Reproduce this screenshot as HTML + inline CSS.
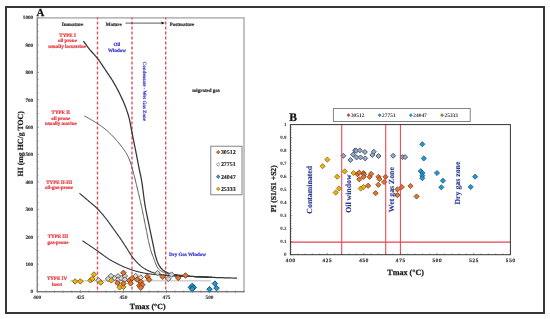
<!DOCTYPE html>
<html><head><meta charset="utf-8"><title>HI vs Tmax and PI vs Tmax</title>
<style>
html,body{margin:0;padding:0;background:#fff;}
body{width:550px;height:319px;overflow:hidden;}
svg{display:block;filter:blur(0.25px);}
svg text{font-family:'Liberation Serif', 'DejaVu Serif', serif;text-rendering:geometricPrecision;}
</style></head>
<body>
<svg width="550" height="319" viewBox="0 0 550 319">
<rect x="0" y="0" width="550" height="319" fill="#fff"/>
<rect x="6" y="7" width="538" height="306" fill="none" stroke="#363636" stroke-width="2"/>
<rect x="37.3" y="17.9" width="206.7" height="273.7" fill="none" stroke="#a0a0a0" stroke-width="1.25"/>
<line x1="37.3" y1="17.6" x2="37.3" y2="292.1" stroke="#858585" stroke-width="1.15"/>
<line x1="36.8" y1="291.6" x2="244" y2="291.6" stroke="#7a7a7a" stroke-width="1.2"/>
<line x1="37.3" y1="291.6" x2="38.9" y2="291.6" stroke="#777" stroke-width="0.7"/>
<line x1="37.3" y1="284.75" x2="38.5" y2="284.75" stroke="#777" stroke-width="0.7"/>
<line x1="37.3" y1="277.9" x2="38.5" y2="277.9" stroke="#777" stroke-width="0.7"/>
<line x1="37.3" y1="271.05" x2="38.5" y2="271.05" stroke="#777" stroke-width="0.7"/>
<line x1="37.3" y1="264.2" x2="38.9" y2="264.2" stroke="#777" stroke-width="0.7"/>
<line x1="37.3" y1="257.35" x2="38.5" y2="257.35" stroke="#777" stroke-width="0.7"/>
<line x1="37.3" y1="250.5" x2="38.5" y2="250.5" stroke="#777" stroke-width="0.7"/>
<line x1="37.3" y1="243.65" x2="38.5" y2="243.65" stroke="#777" stroke-width="0.7"/>
<line x1="37.3" y1="236.8" x2="38.9" y2="236.8" stroke="#777" stroke-width="0.7"/>
<line x1="37.3" y1="229.95" x2="38.5" y2="229.95" stroke="#777" stroke-width="0.7"/>
<line x1="37.3" y1="223.1" x2="38.5" y2="223.1" stroke="#777" stroke-width="0.7"/>
<line x1="37.3" y1="216.25" x2="38.5" y2="216.25" stroke="#777" stroke-width="0.7"/>
<line x1="37.3" y1="209.4" x2="38.9" y2="209.4" stroke="#777" stroke-width="0.7"/>
<line x1="37.3" y1="202.55" x2="38.5" y2="202.55" stroke="#777" stroke-width="0.7"/>
<line x1="37.3" y1="195.7" x2="38.5" y2="195.7" stroke="#777" stroke-width="0.7"/>
<line x1="37.3" y1="188.85" x2="38.5" y2="188.85" stroke="#777" stroke-width="0.7"/>
<line x1="37.3" y1="182" x2="38.9" y2="182" stroke="#777" stroke-width="0.7"/>
<line x1="37.3" y1="175.15" x2="38.5" y2="175.15" stroke="#777" stroke-width="0.7"/>
<line x1="37.3" y1="168.3" x2="38.5" y2="168.3" stroke="#777" stroke-width="0.7"/>
<line x1="37.3" y1="161.45" x2="38.5" y2="161.45" stroke="#777" stroke-width="0.7"/>
<line x1="37.3" y1="154.6" x2="38.9" y2="154.6" stroke="#777" stroke-width="0.7"/>
<line x1="37.3" y1="147.75" x2="38.5" y2="147.75" stroke="#777" stroke-width="0.7"/>
<line x1="37.3" y1="140.9" x2="38.5" y2="140.9" stroke="#777" stroke-width="0.7"/>
<line x1="37.3" y1="134.05" x2="38.5" y2="134.05" stroke="#777" stroke-width="0.7"/>
<line x1="37.3" y1="127.2" x2="38.9" y2="127.2" stroke="#777" stroke-width="0.7"/>
<line x1="37.3" y1="120.35" x2="38.5" y2="120.35" stroke="#777" stroke-width="0.7"/>
<line x1="37.3" y1="113.5" x2="38.5" y2="113.5" stroke="#777" stroke-width="0.7"/>
<line x1="37.3" y1="106.65" x2="38.5" y2="106.65" stroke="#777" stroke-width="0.7"/>
<line x1="37.3" y1="99.8" x2="38.9" y2="99.8" stroke="#777" stroke-width="0.7"/>
<line x1="37.3" y1="92.95" x2="38.5" y2="92.95" stroke="#777" stroke-width="0.7"/>
<line x1="37.3" y1="86.1" x2="38.5" y2="86.1" stroke="#777" stroke-width="0.7"/>
<line x1="37.3" y1="79.25" x2="38.5" y2="79.25" stroke="#777" stroke-width="0.7"/>
<line x1="37.3" y1="72.4" x2="38.9" y2="72.4" stroke="#777" stroke-width="0.7"/>
<line x1="37.3" y1="65.55" x2="38.5" y2="65.55" stroke="#777" stroke-width="0.7"/>
<line x1="37.3" y1="58.7" x2="38.5" y2="58.7" stroke="#777" stroke-width="0.7"/>
<line x1="37.3" y1="51.85" x2="38.5" y2="51.85" stroke="#777" stroke-width="0.7"/>
<line x1="37.3" y1="45" x2="38.9" y2="45" stroke="#777" stroke-width="0.7"/>
<line x1="37.3" y1="38.15" x2="38.5" y2="38.15" stroke="#777" stroke-width="0.7"/>
<line x1="37.3" y1="31.3" x2="38.5" y2="31.3" stroke="#777" stroke-width="0.7"/>
<line x1="37.3" y1="24.45" x2="38.5" y2="24.45" stroke="#777" stroke-width="0.7"/>
<line x1="37.3" y1="17.6" x2="38.9" y2="17.6" stroke="#777" stroke-width="0.7"/>
<line x1="37.3" y1="290" x2="37.3" y2="293.2" stroke="#777" stroke-width="0.7"/>
<line x1="45.91" y1="290.5" x2="45.91" y2="292.7" stroke="#777" stroke-width="0.7"/>
<line x1="54.52" y1="290.5" x2="54.52" y2="292.7" stroke="#777" stroke-width="0.7"/>
<line x1="63.14" y1="290.5" x2="63.14" y2="292.7" stroke="#777" stroke-width="0.7"/>
<line x1="71.75" y1="290.5" x2="71.75" y2="292.7" stroke="#777" stroke-width="0.7"/>
<line x1="80.36" y1="290" x2="80.36" y2="293.2" stroke="#777" stroke-width="0.7"/>
<line x1="88.97" y1="290.5" x2="88.97" y2="292.7" stroke="#777" stroke-width="0.7"/>
<line x1="97.59" y1="290.5" x2="97.59" y2="292.7" stroke="#777" stroke-width="0.7"/>
<line x1="106.2" y1="290.5" x2="106.2" y2="292.7" stroke="#777" stroke-width="0.7"/>
<line x1="114.81" y1="290.5" x2="114.81" y2="292.7" stroke="#777" stroke-width="0.7"/>
<line x1="123.42" y1="290" x2="123.42" y2="293.2" stroke="#777" stroke-width="0.7"/>
<line x1="132.04" y1="290.5" x2="132.04" y2="292.7" stroke="#777" stroke-width="0.7"/>
<line x1="140.65" y1="290.5" x2="140.65" y2="292.7" stroke="#777" stroke-width="0.7"/>
<line x1="149.26" y1="290.5" x2="149.26" y2="292.7" stroke="#777" stroke-width="0.7"/>
<line x1="157.88" y1="290.5" x2="157.88" y2="292.7" stroke="#777" stroke-width="0.7"/>
<line x1="166.49" y1="290" x2="166.49" y2="293.2" stroke="#777" stroke-width="0.7"/>
<line x1="175.1" y1="290.5" x2="175.1" y2="292.7" stroke="#777" stroke-width="0.7"/>
<line x1="183.71" y1="290.5" x2="183.71" y2="292.7" stroke="#777" stroke-width="0.7"/>
<line x1="192.32" y1="290.5" x2="192.32" y2="292.7" stroke="#777" stroke-width="0.7"/>
<line x1="200.94" y1="290.5" x2="200.94" y2="292.7" stroke="#777" stroke-width="0.7"/>
<line x1="209.55" y1="290" x2="209.55" y2="293.2" stroke="#777" stroke-width="0.7"/>
<line x1="218.16" y1="290.5" x2="218.16" y2="292.7" stroke="#777" stroke-width="0.7"/>
<line x1="226.77" y1="290.5" x2="226.77" y2="292.7" stroke="#777" stroke-width="0.7"/>
<line x1="235.39" y1="290.5" x2="235.39" y2="292.7" stroke="#777" stroke-width="0.7"/>
<line x1="244" y1="290.5" x2="244" y2="292.7" stroke="#777" stroke-width="0.7"/>
<text x="33.2" y="293.4" font-size="5.2" text-anchor="end" font-weight="bold" fill="#333" stroke="#333" stroke-width="0.15">0</text>
<text x="33.2" y="266" font-size="5.2" text-anchor="end" font-weight="bold" fill="#333" stroke="#333" stroke-width="0.15">100</text>
<text x="33.2" y="238.6" font-size="5.2" text-anchor="end" font-weight="bold" fill="#333" stroke="#333" stroke-width="0.15">200</text>
<text x="33.2" y="211.2" font-size="5.2" text-anchor="end" font-weight="bold" fill="#333" stroke="#333" stroke-width="0.15">300</text>
<text x="33.2" y="183.8" font-size="5.2" text-anchor="end" font-weight="bold" fill="#333" stroke="#333" stroke-width="0.15">400</text>
<text x="33.2" y="156.4" font-size="5.2" text-anchor="end" font-weight="bold" fill="#333" stroke="#333" stroke-width="0.15">500</text>
<text x="33.2" y="129" font-size="5.2" text-anchor="end" font-weight="bold" fill="#333" stroke="#333" stroke-width="0.15">600</text>
<text x="33.2" y="101.6" font-size="5.2" text-anchor="end" font-weight="bold" fill="#333" stroke="#333" stroke-width="0.15">700</text>
<text x="33.2" y="74.2" font-size="5.2" text-anchor="end" font-weight="bold" fill="#333" stroke="#333" stroke-width="0.15">800</text>
<text x="33.2" y="46.8" font-size="5.2" text-anchor="end" font-weight="bold" fill="#333" stroke="#333" stroke-width="0.15">900</text>
<text x="33.2" y="19.4" font-size="5.2" text-anchor="end" font-weight="bold" fill="#333" stroke="#333" stroke-width="0.15">1000</text>
<text x="37.3" y="299.2" font-size="5.3" text-anchor="middle" font-weight="bold" fill="#333" stroke="#333" stroke-width="0.12">400</text>
<text x="80.36" y="299.2" font-size="5.3" text-anchor="middle" font-weight="bold" fill="#333" stroke="#333" stroke-width="0.12">425</text>
<text x="123.42" y="299.2" font-size="5.3" text-anchor="middle" font-weight="bold" fill="#333" stroke="#333" stroke-width="0.12">450</text>
<text x="166.49" y="299.2" font-size="5.3" text-anchor="middle" font-weight="bold" fill="#333" stroke="#333" stroke-width="0.12">475</text>
<text x="209.55" y="299.2" font-size="5.3" text-anchor="middle" font-weight="bold" fill="#333" stroke="#333" stroke-width="0.12">500</text>
<line x1="70" y1="280.7" x2="211" y2="280.7" stroke="#d0d0d0" stroke-width="1.6"/>
<line x1="97.5" y1="17.6" x2="97.5" y2="291.6" stroke="#e6505a" stroke-width="1.4" stroke-dasharray="3,2" stroke-dashoffset="1"/>
<line x1="132" y1="17.6" x2="132" y2="291.6" stroke="#e6505a" stroke-width="1.4" stroke-dasharray="3,2" stroke-dashoffset="1"/>
<line x1="165.7" y1="17.6" x2="165.7" y2="291.6" stroke="#e6505a" stroke-width="1.4" stroke-dasharray="3,2" stroke-dashoffset="1"/>
<path d="M83.4,41 L84.33,42.33 L85.26,43.65 L86.22,44.96 L87.19,46.26 L88.17,47.54 L89.17,48.81 L90.19,50.06 L91.25,51.28 L92.34,52.49 L93.43,53.69 L94.53,54.88 L95.61,56.09 L96.66,57.32 L97.66,58.58 L98.63,59.87 L99.57,61.18 L100.48,62.51 L101.39,63.86 L102.28,65.21 L103.17,66.57 L104.06,67.93 L104.95,69.28 L105.86,70.62 L106.77,71.96 L107.68,73.3 L108.6,74.63 L109.51,75.98 L110.4,77.32 L111.29,78.68 L112.15,80.04 L112.99,81.42 L113.81,82.81 L114.62,84.21 L115.42,85.62 L116.21,87.04 L116.98,88.46 L117.74,89.89 L118.48,91.33 L119.21,92.78 L119.93,94.23 L120.63,95.68 L121.32,97.15 L121.99,98.62 L122.66,100.1 L123.31,101.58 L123.95,103.07 L124.56,104.57 L125.16,106.07 L125.73,107.58 L126.29,109.1 L126.84,110.63 L127.37,112.16 L127.88,113.7 L128.35,115.25 L128.79,116.8 L129.19,118.36 L129.55,119.94 L129.88,121.52 L130.2,123.11 L130.5,124.7 L130.79,126.29 L131.09,127.89 L131.4,129.48 L131.71,131.07 L132.03,132.65 L132.35,134.24 L132.67,135.83 L132.98,137.41 L133.3,139 L133.62,140.59 L133.93,142.17 L134.25,143.76 L134.57,145.35 L134.89,146.93 L135.21,148.52 L135.53,150.11 L135.85,151.69 L136.16,153.28 L136.47,154.87 L136.78,156.46 L137.09,158.04 L137.39,159.63 L137.69,161.22 L137.99,162.81 L138.3,164.4 L138.6,165.99 L138.92,167.58 L139.24,169.17 L139.58,170.75 L139.92,172.33 L140.27,173.91 L140.62,175.49 L140.95,177.08 L141.26,178.66 L141.54,180.26 L141.81,181.85 L142.05,183.45 L142.29,185.05 L142.51,186.65 L142.72,188.26 L142.93,189.86 L143.14,191.47 L143.34,193.08 L143.54,194.68 L143.75,196.29 L143.96,197.89 L144.17,199.5 L144.4,201.1 L144.64,202.7 L144.89,204.3 L145.15,205.89 L145.43,207.49 L145.72,209.08 L146.03,210.66 L146.34,212.25 L146.66,213.84 L146.99,215.42 L147.32,217.01 L147.66,218.59 L147.99,220.18 L148.33,221.76 L148.66,223.35 L148.99,224.93 L149.31,226.52 L149.64,228.1 L149.97,229.68 L150.3,231.27 L150.63,232.85 L150.97,234.43 L151.3,236.02 L151.64,237.6 L151.97,239.18 L152.31,240.77 L152.64,242.35 L152.98,243.93 L153.31,245.52 L153.63,247.11 L153.94,248.7 L154.25,250.29 L154.58,251.87 L154.92,253.45 L155.3,255.02 L155.72,256.59 L156.17,258.15 L156.65,259.7 L157.19,261.22 L157.8,262.71 L158.49,264.2 L159.27,265.64 L160.14,267 L161.11,268.25 L162.25,269.44 L163.5,270.52 L164.82,271.39 L166.24,272.13 L167.76,272.77 L169.31,273.3 L170.86,273.72 L172.43,274.08 L174.02,274.39 L175.63,274.66 L177.24,274.9 L178.84,275.11 L180.44,275.31 L182.05,275.49 L183.66,275.67 L185.27,275.83 L186.88,275.98 L188.5,276.12 L190.11,276.26 L191.73,276.38 L193.34,276.49 L194.96,276.6 L196.57,276.69 L198.18,276.79 L199.8,276.87 L201.42,276.95 L203.03,277.03 L204.65,277.1 L206.27,277.17 L207.88,277.24 L209.5,277.3 L211.12,277.36 L212.74,277.42 L214.35,277.48 L215.97,277.53 L217.59,277.59 L219.21,277.64 L220.82,277.69 L222.44,277.74 L224.06,277.79 L225.68,277.84 L227.29,277.88 L228.91,277.92 L230.53,277.96 L232.15,278 L233.76,278.04 L235.38,278.07 L237,278.1" fill="none" stroke="#333" stroke-width="1.25" stroke-linejoin="round"/>
<path d="M84.3,116 L85.35,116.53 L86.39,117.07 L87.42,117.62 L88.45,118.18 L89.47,118.74 L90.49,119.32 L91.5,119.91 L92.51,120.5 L93.5,121.11 L94.5,121.72 L95.48,122.33 L96.47,122.96 L97.44,123.59 L98.41,124.23 L99.38,124.88 L100.35,125.55 L101.31,126.22 L102.26,126.9 L103.21,127.6 L104.14,128.3 L105.06,129.02 L105.97,129.75 L106.86,130.5 L107.74,131.26 L108.6,132.04 L109.44,132.84 L110.28,133.66 L111.11,134.49 L111.92,135.33 L112.73,136.18 L113.53,137.04 L114.32,137.89 L115.11,138.75 L115.89,139.62 L116.66,140.49 L117.43,141.38 L118.2,142.26 L118.95,143.16 L119.69,144.07 L120.41,144.98 L121.12,145.9 L121.82,146.83 L122.52,147.77 L123.21,148.72 L123.9,149.67 L124.57,150.63 L125.23,151.61 L125.86,152.59 L126.46,153.59 L127.03,154.6 L127.57,155.62 L128.08,156.67 L128.57,157.73 L129.04,158.8 L129.48,159.89 L129.91,160.98 L130.31,162.08 L130.7,163.18 L131.06,164.28 L131.4,165.4 L131.73,166.52 L132.05,167.65 L132.36,168.77 L132.67,169.9 L132.98,171.02 L133.28,172.15 L133.58,173.28 L133.88,174.41 L134.17,175.54 L134.46,176.67 L134.75,177.8 L135.03,178.94 L135.31,180.07 L135.59,181.2 L135.87,182.34 L136.14,183.47 L136.42,184.61 L136.69,185.74 L136.97,186.88 L137.25,188.01 L137.52,189.14 L137.79,190.28 L138.07,191.42 L138.34,192.55 L138.61,193.69 L138.88,194.82 L139.15,195.96 L139.41,197.1 L139.68,198.23 L139.94,199.37 L140.2,200.51 L140.46,201.65 L140.71,202.79 L140.96,203.93 L141.21,205.07 L141.46,206.21 L141.71,207.35 L141.95,208.49 L142.19,209.63 L142.42,210.78 L142.66,211.92 L142.89,213.06 L143.12,214.21 L143.35,215.35 L143.58,216.5 L143.81,217.64 L144.04,218.79 L144.27,219.93 L144.5,221.08 L144.73,222.22 L144.97,223.37 L145.2,224.51 L145.43,225.65 L145.66,226.8 L145.89,227.94 L146.12,229.09 L146.34,230.24 L146.56,231.38 L146.79,232.53 L147.01,233.68 L147.23,234.82 L147.46,235.97 L147.69,237.11 L147.92,238.26 L148.16,239.4 L148.4,240.54 L148.65,241.68 L148.9,242.82 L149.16,243.96 L149.42,245.1 L149.7,246.23 L149.98,247.36 L150.28,248.49 L150.59,249.62 L150.92,250.74 L151.27,251.85 L151.66,252.95 L152.07,254.04 L152.49,255.13 L152.92,256.22 L153.33,257.31 L153.73,258.41 L154.11,259.52 L154.5,260.62 L154.89,261.73 L155.31,262.82 L155.75,263.89 L156.23,264.97 L156.72,266.07 L157.26,267.14 L157.85,268.14 L158.52,269.02 L159.32,269.81 L160.27,270.53 L161.3,271.18 L162.34,271.73 L163.39,272.18 L164.48,272.58 L165.6,272.94 L166.74,273.26 L167.87,273.57 L169,273.86 L170.14,274.15 L171.28,274.42 L172.42,274.67 L173.57,274.89 L174.72,275.06 L175.87,275.2 L177.03,275.33 L178.18,275.45 L179.34,275.56 L180.5,275.66 L181.67,275.76 L182.83,275.85 L184,275.94 L185.16,276.02 L186.33,276.09 L187.5,276.17 L188.67,276.24 L189.84,276.31 L191.01,276.37 L192.17,276.44 L193.34,276.51 L194.51,276.57 L195.67,276.64 L196.84,276.7 L198,276.77 L199.17,276.83 L200.34,276.89 L201.5,276.95 L202.67,277.01 L203.83,277.07 L205,277.12 L206.17,277.17 L207.33,277.22 L208.5,277.27 L209.67,277.32 L210.83,277.36 L212,277.4" fill="none" stroke="#555" stroke-width="1.0" stroke-linejoin="round"/>
<path d="M79.5,193.3 L80.15,193.84 L80.8,194.39 L81.45,194.94 L82.1,195.48 L82.75,196.03 L83.4,196.58 L84.05,197.13 L84.69,197.67 L85.34,198.22 L85.99,198.77 L86.63,199.33 L87.27,199.88 L87.92,200.43 L88.56,200.98 L89.21,201.53 L89.87,202.08 L90.52,202.62 L91.17,203.17 L91.83,203.71 L92.48,204.26 L93.13,204.81 L93.77,205.36 L94.41,205.92 L95.05,206.48 L95.68,207.05 L96.3,207.63 L96.91,208.21 L97.5,208.8 L98.1,209.41 L98.68,210.02 L99.26,210.63 L99.84,211.26 L100.41,211.89 L100.97,212.53 L101.53,213.17 L102.08,213.81 L102.63,214.46 L103.18,215.12 L103.72,215.77 L104.26,216.43 L104.79,217.09 L105.32,217.75 L105.85,218.42 L106.37,219.08 L106.89,219.76 L107.4,220.43 L107.91,221.11 L108.41,221.8 L108.91,222.49 L109.4,223.17 L109.9,223.87 L110.39,224.56 L110.88,225.25 L111.38,225.94 L111.87,226.63 L112.37,227.32 L112.87,228.01 L113.37,228.69 L113.86,229.38 L114.36,230.07 L114.86,230.75 L115.36,231.44 L115.86,232.13 L116.35,232.82 L116.85,233.51 L117.34,234.2 L117.83,234.89 L118.32,235.59 L118.8,236.28 L119.29,236.98 L119.77,237.68 L120.25,238.38 L120.72,239.08 L121.2,239.79 L121.67,240.49 L122.14,241.2 L122.61,241.9 L123.08,242.61 L123.55,243.32 L124.01,244.03 L124.48,244.74 L124.94,245.45 L125.41,246.16 L125.87,246.87 L126.33,247.58 L126.8,248.29 L127.25,249.01 L127.71,249.73 L128.15,250.45 L128.59,251.18 L129.04,251.91 L129.48,252.63 L129.93,253.36 L130.38,254.07 L130.84,254.78 L131.31,255.49 L131.8,256.18 L132.29,256.86 L132.8,257.54 L133.33,258.21 L133.86,258.87 L134.4,259.53 L134.95,260.18 L135.52,260.82 L136.09,261.45 L136.67,262.06 L137.26,262.67 L137.85,263.27 L138.46,263.87 L139.09,264.46 L139.72,265.03 L140.36,265.6 L141.01,266.14 L141.68,266.66 L142.35,267.16 L143.04,267.64 L143.74,268.12 L144.46,268.58 L145.19,269.02 L145.93,269.45 L146.68,269.87 L147.43,270.26 L148.2,270.63 L148.96,270.98 L149.74,271.32 L150.52,271.64 L151.31,271.95 L152.12,272.24 L152.92,272.52 L153.74,272.78 L154.55,273.02 L155.37,273.24 L156.19,273.44 L157.01,273.63 L157.84,273.82 L158.67,273.99 L159.5,274.16 L160.34,274.32 L161.18,274.46 L162.02,274.6 L162.86,274.73 L163.71,274.85 L164.55,274.95 L165.39,275.04 L166.23,275.13 L167.07,275.21 L167.91,275.29 L168.76,275.37 L169.6,275.44 L170.45,275.51 L171.3,275.58 L172.14,275.64 L172.99,275.7 L173.84,275.76 L174.69,275.81 L175.54,275.87 L176.39,275.91 L177.23,275.96 L178.08,276.01 L178.93,276.05 L179.78,276.09 L180.63,276.13 L181.47,276.16 L182.32,276.2 L183.17,276.23 L184.02,276.26 L184.87,276.28 L185.71,276.31 L186.56,276.34 L187.41,276.36 L188.26,276.38 L189.11,276.41 L189.96,276.43 L190.8,276.46 L191.65,276.48 L192.5,276.51 L193.35,276.54 L194.2,276.57 L195.05,276.6 L195.89,276.64 L196.74,276.67 L197.59,276.7 L198.44,276.74 L199.28,276.78 L200.13,276.81 L200.98,276.85 L201.83,276.89 L202.68,276.93 L203.52,276.97 L204.37,277.01 L205.22,277.05 L206.07,277.09 L206.91,277.13 L207.76,277.18 L208.61,277.22 L209.46,277.26 L210.3,277.31 L211.15,277.35 L212,277.4" fill="none" stroke="#383838" stroke-width="1.15" stroke-linejoin="round"/>
<path d="M82.5,240.8 L83.08,241.18 L83.66,241.56 L84.24,241.94 L84.82,242.33 L85.4,242.71 L85.98,243.09 L86.56,243.48 L87.14,243.87 L87.72,244.25 L88.29,244.64 L88.87,245.03 L89.45,245.41 L90.02,245.8 L90.6,246.19 L91.17,246.58 L91.75,246.97 L92.32,247.36 L92.89,247.76 L93.47,248.15 L94.04,248.54 L94.61,248.93 L95.19,249.33 L95.76,249.72 L96.33,250.12 L96.9,250.51 L97.47,250.91 L98.04,251.31 L98.61,251.71 L99.17,252.12 L99.73,252.53 L100.29,252.94 L100.85,253.35 L101.41,253.77 L101.97,254.19 L102.53,254.6 L103.08,255.02 L103.64,255.43 L104.2,255.85 L104.77,256.26 L105.33,256.66 L105.9,257.06 L106.46,257.46 L107.04,257.85 L107.61,258.24 L108.19,258.62 L108.78,258.99 L109.37,259.35 L109.96,259.71 L110.55,260.07 L111.15,260.42 L111.75,260.77 L112.36,261.11 L112.96,261.45 L113.57,261.79 L114.19,262.12 L114.8,262.45 L115.41,262.78 L116.03,263.1 L116.65,263.42 L117.27,263.73 L117.89,264.04 L118.51,264.35 L119.13,264.66 L119.76,264.96 L120.39,265.26 L121.01,265.56 L121.65,265.85 L122.28,266.14 L122.91,266.43 L123.55,266.71 L124.19,266.99 L124.83,267.27 L125.47,267.53 L126.11,267.8 L126.75,268.05 L127.4,268.3 L128.05,268.55 L128.7,268.79 L129.35,269.03 L130.01,269.26 L130.66,269.5 L131.32,269.73 L131.98,269.95 L132.64,270.17 L133.3,270.39 L133.97,270.59 L134.63,270.8 L135.3,270.99 L135.97,271.18 L136.64,271.36 L137.31,271.53 L137.98,271.7 L138.65,271.87 L139.33,272.03 L140,272.19 L140.68,272.35 L141.36,272.5 L142.04,272.64 L142.73,272.78 L143.41,272.92 L144.09,273.05 L144.78,273.17 L145.46,273.28 L146.15,273.39 L146.83,273.49 L147.52,273.59 L148.2,273.69 L148.89,273.78 L149.58,273.87 L150.27,273.95 L150.96,274.04 L151.65,274.12 L152.34,274.19 L153.04,274.27 L153.73,274.34 L154.42,274.41 L155.11,274.48 L155.8,274.55 L156.5,274.61 L157.19,274.67 L157.88,274.73 L158.57,274.79 L159.26,274.85 L159.96,274.91 L160.65,274.97 L161.34,275.02 L162.03,275.08 L162.73,275.13 L163.42,275.18 L164.11,275.24 L164.8,275.29 L165.5,275.34 L166.19,275.39 L166.88,275.43 L167.58,275.48 L168.27,275.52 L168.97,275.57 L169.66,275.61 L170.35,275.65 L171.05,275.69 L171.74,275.73 L172.43,275.77 L173.13,275.81 L173.82,275.84 L174.52,275.88 L175.21,275.91 L175.9,275.94 L176.6,275.97 L177.29,276 L177.98,276.03 L178.68,276.05 L179.37,276.08 L180.07,276.11 L180.76,276.13 L181.46,276.15 L182.15,276.18 L182.84,276.2 L183.54,276.22 L184.23,276.24 L184.93,276.26 L185.62,276.29 L186.32,276.31 L187.01,276.33 L187.71,276.35 L188.4,276.37 L189.1,276.39 L189.79,276.41 L190.48,276.44 L191.18,276.46 L191.87,276.48 L192.57,276.51 L193.26,276.53 L193.96,276.56 L194.65,276.59 L195.34,276.61 L196.04,276.64 L196.73,276.67 L197.43,276.7 L198.12,276.73 L198.82,276.76 L199.51,276.79 L200.2,276.82 L200.9,276.85 L201.59,276.88 L202.29,276.92 L202.98,276.95 L203.67,276.98 L204.37,277.02 L205.06,277.05 L205.76,277.08 L206.45,277.12 L207.14,277.15 L207.84,277.19 L208.53,277.22 L209.22,277.26 L209.92,277.29 L210.61,277.33 L211.31,277.36 L212,277.4" fill="none" stroke="#383838" stroke-width="1.1" stroke-linejoin="round"/>
<path d="M98.6,277.55 L101.35,280.3 L98.6,283.05 L95.85,280.3 Z" fill="#d6d6d6" stroke="#5e5e5e" stroke-width="0.95"/>
<path d="M108.1,276.15 L110.85,278.9 L108.1,281.65 L105.35,278.9 Z" fill="#d6d6d6" stroke="#5e5e5e" stroke-width="0.95"/>
<path d="M111,273.25 L113.75,276 L111,278.75 L108.25,276 Z" fill="#d6d6d6" stroke="#5e5e5e" stroke-width="0.95"/>
<path d="M114.6,275.45 L117.35,278.2 L114.6,280.95 L111.85,278.2 Z" fill="#d6d6d6" stroke="#5e5e5e" stroke-width="0.95"/>
<path d="M118,273.55 L120.75,276.3 L118,279.05 L115.25,276.3 Z" fill="#d6d6d6" stroke="#5e5e5e" stroke-width="0.95"/>
<path d="M118.3,276.85 L121.05,279.6 L118.3,282.35 L115.55,279.6 Z" fill="#d6d6d6" stroke="#5e5e5e" stroke-width="0.95"/>
<path d="M121.2,275.45 L123.95,278.2 L121.2,280.95 L118.45,278.2 Z" fill="#d6d6d6" stroke="#5e5e5e" stroke-width="0.95"/>
<path d="M124.8,273.25 L127.55,276 L124.8,278.75 L122.05,276 Z" fill="#d6d6d6" stroke="#5e5e5e" stroke-width="0.95"/>
<path d="M124.8,276.85 L127.55,279.6 L124.8,282.35 L122.05,279.6 Z" fill="#d6d6d6" stroke="#5e5e5e" stroke-width="0.95"/>
<path d="M135.7,273.25 L138.45,276 L135.7,278.75 L132.95,276 Z" fill="#d6d6d6" stroke="#5e5e5e" stroke-width="0.95"/>
<path d="M140.8,274.75 L143.55,277.5 L140.8,280.25 L138.05,277.5 Z" fill="#d6d6d6" stroke="#5e5e5e" stroke-width="0.95"/>
<path d="M157.5,270.35 L160.25,273.1 L157.5,275.85 L154.75,273.1 Z" fill="#d6d6d6" stroke="#5e5e5e" stroke-width="0.95"/>
<path d="M168.3,276.05 L171.05,278.8 L168.3,281.55 L165.55,278.8 Z" fill="#d6d6d6" stroke="#5e5e5e" stroke-width="0.95"/>
<path d="M171.6,271.85 L174.35,274.6 L171.6,277.35 L168.85,274.6 Z" fill="#d6d6d6" stroke="#5e5e5e" stroke-width="0.95"/>
<path d="M75.1,278.65 L77.85,281.4 L75.1,284.15 L72.35,281.4 Z" fill="#f2b200" stroke="#7a6a30" stroke-width="0.95"/>
<path d="M80.3,278.65 L83.05,281.4 L80.3,284.15 L77.55,281.4 Z" fill="#f2b200" stroke="#7a6a30" stroke-width="0.95"/>
<path d="M90.5,277.55 L93.25,280.3 L90.5,283.05 L87.75,280.3 Z" fill="#f2b200" stroke="#7a6a30" stroke-width="0.95"/>
<path d="M92.3,276.15 L95.05,278.9 L92.3,281.65 L89.55,278.9 Z" fill="#f2b200" stroke="#7a6a30" stroke-width="0.95"/>
<path d="M94,271.75 L96.75,274.5 L94,277.25 L91.25,274.5 Z" fill="#f2b200" stroke="#7a6a30" stroke-width="0.95"/>
<path d="M100.8,279.75 L103.55,282.5 L100.8,285.25 L98.05,282.5 Z" fill="#f2b200" stroke="#7a6a30" stroke-width="0.95"/>
<path d="M111.3,277.65 L114.05,280.4 L111.3,283.15 L108.55,280.4 Z" fill="#f2b200" stroke="#7a6a30" stroke-width="0.95"/>
<path d="M119.7,284.55 L122.45,287.3 L119.7,290.05 L116.95,287.3 Z" fill="#f2b200" stroke="#7a6a30" stroke-width="0.95"/>
<path d="M123.4,284.15 L126.15,286.9 L123.4,289.65 L120.65,286.9 Z" fill="#f2b200" stroke="#7a6a30" stroke-width="0.95"/>
<path d="M123.4,270.05 L126.15,272.8 L123.4,275.55 L120.65,272.8 Z" fill="#ee7422" stroke="#6a4030" stroke-width="0.95"/>
<path d="M117.5,280.25 L120.25,283 L117.5,285.75 L114.75,283 Z" fill="#ee7422" stroke="#6a4030" stroke-width="0.95"/>
<path d="M123.4,280.85 L126.15,283.6 L123.4,286.35 L120.65,283.6 Z" fill="#ee7422" stroke="#6a4030" stroke-width="0.95"/>
<path d="M129.2,277.65 L131.95,280.4 L129.2,283.15 L126.45,280.4 Z" fill="#ee7422" stroke="#6a4030" stroke-width="0.95"/>
<path d="M130.6,280.55 L133.35,283.3 L130.6,286.05 L127.85,283.3 Z" fill="#ee7422" stroke="#6a4030" stroke-width="0.95"/>
<path d="M132.1,275.45 L134.85,278.2 L132.1,280.95 L129.35,278.2 Z" fill="#ee7422" stroke="#6a4030" stroke-width="0.95"/>
<path d="M137.2,276.85 L139.95,279.6 L137.2,282.35 L134.45,279.6 Z" fill="#ee7422" stroke="#6a4030" stroke-width="0.95"/>
<path d="M140.8,279.05 L143.55,281.8 L140.8,284.55 L138.05,281.8 Z" fill="#ee7422" stroke="#6a4030" stroke-width="0.95"/>
<path d="M139.4,282.75 L142.15,285.5 L139.4,288.25 L136.65,285.5 Z" fill="#ee7422" stroke="#6a4030" stroke-width="0.95"/>
<path d="M142.3,281.95 L145.05,284.7 L142.3,287.45 L139.55,284.7 Z" fill="#ee7422" stroke="#6a4030" stroke-width="0.95"/>
<path d="M140.8,284.85 L143.55,287.6 L140.8,290.35 L138.05,287.6 Z" fill="#ee7422" stroke="#6a4030" stroke-width="0.95"/>
<path d="M147.4,273.95 L150.15,276.7 L147.4,279.45 L144.65,276.7 Z" fill="#ee7422" stroke="#6a4030" stroke-width="0.95"/>
<path d="M149.1,276.85 L151.85,279.6 L149.1,282.35 L146.35,279.6 Z" fill="#ee7422" stroke="#6a4030" stroke-width="0.95"/>
<path d="M162.7,273.95 L165.45,276.7 L162.7,279.45 L159.95,276.7 Z" fill="#ee7422" stroke="#6a4030" stroke-width="0.95"/>
<path d="M178.2,275.15 L180.95,277.9 L178.2,280.65 L175.45,277.9 Z" fill="#ee7422" stroke="#6a4030" stroke-width="0.95"/>
<path d="M185.5,272.75 L188.25,275.5 L185.5,278.25 L182.75,275.5 Z" fill="#ee7422" stroke="#6a4030" stroke-width="0.95"/>
<path d="M190.9,284.65 L193.65,287.4 L190.9,290.15 L188.15,287.4 Z" fill="#1b9ad8" stroke="#1d4d6a" stroke-width="0.95"/>
<path d="M192.3,283.15 L195.05,285.9 L192.3,288.65 L189.55,285.9 Z" fill="#1b9ad8" stroke="#1d4d6a" stroke-width="0.95"/>
<path d="M193.7,284.65 L196.45,287.4 L193.7,290.15 L190.95,287.4 Z" fill="#1b9ad8" stroke="#1d4d6a" stroke-width="0.95"/>
<path d="M192.3,286.15 L195.05,288.9 L192.3,291.65 L189.55,288.9 Z" fill="#1b9ad8" stroke="#1d4d6a" stroke-width="0.95"/>
<path d="M209.5,286.45 L212.25,289.2 L209.5,291.95 L206.75,289.2 Z" fill="#1b9ad8" stroke="#1d4d6a" stroke-width="0.95"/>
<path d="M214.9,280.85 L217.65,283.6 L214.9,286.35 L212.15,283.6 Z" fill="#1b9ad8" stroke="#1d4d6a" stroke-width="0.95"/>
<path d="M216.5,285.35 L219.25,288.1 L216.5,290.85 L213.75,288.1 Z" fill="#1b9ad8" stroke="#1d4d6a" stroke-width="0.95"/>
<text x="36.5" y="15.8" font-size="10.8" text-anchor="start" font-weight="bold" fill="#111" stroke="#111" stroke-width="0.25">A</text>
<text x="72.5" y="25.9" font-size="5" text-anchor="middle" font-weight="bold" fill="#333" stroke="#333" stroke-width="0.22">Immature</text>
<text x="113.7" y="25.9" font-size="5" text-anchor="middle" font-weight="bold" fill="#333" stroke="#333" stroke-width="0.22">Mature</text>
<text x="182" y="25.9" font-size="5" text-anchor="middle" font-weight="bold" fill="#333" stroke="#333" stroke-width="0.22">Postmature</text>
<line x1="125.5" y1="23.1" x2="162" y2="23.1" stroke="#333" stroke-width="0.8"/>
<path d="M165,23.1 L161.5,21.6 L161.5,24.6 Z" fill="#222"/>
<text x="67.6" y="36.5" font-size="5" text-anchor="middle" font-weight="bold" fill="#e63a40" stroke="#e63a40" stroke-width="0.22">TYPE I</text>
<text x="67.4" y="42.4" font-size="5" text-anchor="middle" font-weight="bold" fill="#e63a40" stroke="#e63a40" stroke-width="0.22">oil prone</text>
<text x="67.2" y="48.3" font-size="5" text-anchor="middle" font-weight="bold" fill="#e63a40" stroke="#e63a40" stroke-width="0.22">usually lacustrine</text>
<text x="116.9" y="46.1" font-size="5" text-anchor="middle" font-weight="bold" fill="#3a3ad4" stroke="#3a3ad4" stroke-width="0.22">Oil</text>
<text x="116.9" y="51.6" font-size="5" text-anchor="middle" font-weight="bold" fill="#3a3ad4" stroke="#3a3ad4" stroke-width="0.22">Window</text>
<text transform="translate(143.2,91.2) rotate(90)" font-size="5" text-anchor="middle" font-weight="bold" fill="#3a3ad4" stroke="#3a3ad4" stroke-width="0.15">Condensate - Wet Gas Zone</text>
<text x="206" y="91.7" font-size="5" text-anchor="middle" font-weight="bold" fill="#333" stroke="#333" stroke-width="0.22">migrated gas</text>
<text x="60.8" y="114.1" font-size="5" text-anchor="middle" font-weight="bold" fill="#e63a40" stroke="#e63a40" stroke-width="0.22">TYPE II</text>
<text x="60.8" y="119.9" font-size="5" text-anchor="middle" font-weight="bold" fill="#e63a40" stroke="#e63a40" stroke-width="0.22">oil prone</text>
<text x="60.8" y="125.4" font-size="5" text-anchor="middle" font-weight="bold" fill="#e63a40" stroke="#e63a40" stroke-width="0.22">usually marine</text>
<text x="59.2" y="183.8" font-size="5" text-anchor="middle" font-weight="bold" fill="#e63a40" stroke="#e63a40" stroke-width="0.22">TYPE II-III</text>
<text x="59.1" y="189.1" font-size="5" text-anchor="middle" font-weight="bold" fill="#e63a40" stroke="#e63a40" stroke-width="0.22">oil-gas-prone</text>
<text x="58" y="238.1" font-size="5" text-anchor="middle" font-weight="bold" fill="#e63a40" stroke="#e63a40" stroke-width="0.22">TYPE III</text>
<text x="58" y="244.4" font-size="5" text-anchor="middle" font-weight="bold" fill="#e63a40" stroke="#e63a40" stroke-width="0.22">gas-prone</text>
<text x="57" y="279.9" font-size="5" text-anchor="middle" font-weight="bold" fill="#e63a40" stroke="#e63a40" stroke-width="0.22">TYPE IV</text>
<text x="57" y="286.1" font-size="5" text-anchor="middle" font-weight="bold" fill="#e63a40" stroke="#e63a40" stroke-width="0.22">inert</text>
<text x="187.4" y="255.7" font-size="5" text-anchor="middle" font-weight="bold" fill="#3a3ad4" stroke="#3a3ad4" stroke-width="0.22">Dry Gas Window</text>
<text x="147.7" y="309" font-size="7.9" text-anchor="middle" font-weight="bold" fill="#222" stroke="#222" stroke-width="0.25">Tmax (°C)</text>
<text transform="translate(23.4,143.8) rotate(-90)" font-size="7.85" text-anchor="middle" font-weight="bold" fill="#222" stroke="#222" stroke-width="0.2">HI (mg HC/g TOC)</text>
<rect x="210.8" y="146.2" width="31.2" height="48.6" fill="#fff" stroke="#777" stroke-width="0.9"/>
<path d="M218.2,150.4 L220,152.2 L218.2,154 L216.4,152.2 Z" fill="#ee7422" stroke="#6a4030" stroke-width="0.6"/>
<text x="220.9" y="154.2" font-size="5.9" text-anchor="start" font-weight="bold" fill="#222" stroke="#222" stroke-width="0.1">30512</text>
<path d="M218.2,162.63 L220,164.43 L218.2,166.23 L216.4,164.43 Z" fill="#fff" stroke="#555" stroke-width="0.6"/>
<text x="220.9" y="166.43" font-size="5.9" text-anchor="start" font-weight="bold" fill="#222" stroke="#222" stroke-width="0.1">27751</text>
<path d="M218.2,174.86 L220,176.66 L218.2,178.46 L216.4,176.66 Z" fill="#1b9ad8" stroke="#1d4d6a" stroke-width="0.6"/>
<text x="220.9" y="178.66" font-size="5.9" text-anchor="start" font-weight="bold" fill="#222" stroke="#222" stroke-width="0.1">24047</text>
<path d="M218.2,187.09 L220,188.89 L218.2,190.69 L216.4,188.89 Z" fill="#f2b200" stroke="#7a6a30" stroke-width="0.6"/>
<text x="220.9" y="190.89" font-size="5.9" text-anchor="start" font-weight="bold" fill="#222" stroke="#222" stroke-width="0.1">25333</text>
<text x="289.2" y="121" font-size="11.6" text-anchor="start" font-weight="bold" fill="#111" stroke="#111" stroke-width="0.25">B</text>
<rect x="333.4" y="108.5" width="136.8" height="13" fill="#fff" stroke="#777" stroke-width="0.9"/>
<path d="M348.5,113.6 L350.1,115.2 L348.5,116.8 L346.9,115.2 Z" fill="#c0504d" stroke="#8a3a3a" stroke-width="0.5"/>
<text x="350.9" y="117.1" font-size="5.4" text-anchor="start" font-weight="bold" fill="#333">30512</text>
<path d="M379.7,113.6 L381.3,115.2 L379.7,116.8 L378.1,115.2 Z" fill="#4f81bd" stroke="#3a5f8f" stroke-width="0.5"/>
<text x="382.1" y="117.1" font-size="5.4" text-anchor="start" font-weight="bold" fill="#333">27751</text>
<path d="M410.9,113.6 L412.5,115.2 L410.9,116.8 L409.3,115.2 Z" fill="#1d9bd0" stroke="#15708f" stroke-width="0.5"/>
<text x="413.3" y="117.1" font-size="5.4" text-anchor="start" font-weight="bold" fill="#333">24047</text>
<path d="M442.1,113.6 L443.7,115.2 L442.1,116.8 L440.5,115.2 Z" fill="#9c8a2e" stroke="#6a5d1f" stroke-width="0.5"/>
<text x="444.5" y="117.1" font-size="5.4" text-anchor="start" font-weight="bold" fill="#333">25333</text>
<path d="M327.3,157 L329.9,159.6 L327.3,162.2 L324.7,159.6 Z" fill="#f2b200" stroke="#7a6a30" stroke-width="0.8"/>
<path d="M322.6,163.6 L325.2,166.2 L322.6,168.8 L320,166.2 Z" fill="#f2b200" stroke="#7a6a30" stroke-width="0.8"/>
<path d="M344.7,168.8 L347.3,171.4 L344.7,174 L342.1,171.4 Z" fill="#f2b200" stroke="#7a6a30" stroke-width="0.8"/>
<path d="M337.2,174.1 L339.8,176.7 L337.2,179.3 L334.6,176.7 Z" fill="#f2b200" stroke="#7a6a30" stroke-width="0.8"/>
<path d="M338.9,185.9 L341.5,188.5 L338.9,191.1 L336.3,188.5 Z" fill="#f2b200" stroke="#7a6a30" stroke-width="0.8"/>
<path d="M335.7,190 L338.3,192.6 L335.7,195.2 L333.1,192.6 Z" fill="#f2b200" stroke="#7a6a30" stroke-width="0.8"/>
<path d="M353.5,170.4 L356.1,173 L353.5,175.6 L350.9,173 Z" fill="#f2b200" stroke="#7a6a30" stroke-width="0.8"/>
<path d="M360.7,185.9 L363.3,188.5 L360.7,191.1 L358.1,188.5 Z" fill="#f2b200" stroke="#7a6a30" stroke-width="0.8"/>
<path d="M363.5,184.5 L366.1,187.1 L363.5,189.7 L360.9,187.1 Z" fill="#f2b200" stroke="#7a6a30" stroke-width="0.8"/>
<path d="M343.3,153.3 L345.8,155.8 L343.3,158.3 L340.8,155.8 Z" fill="#a0aabb" stroke="#3d5882" stroke-width="0.95"/>
<path d="M350.4,157.5 L352.9,160 L350.4,162.5 L347.9,160 Z" fill="#a0aabb" stroke="#3d5882" stroke-width="0.95"/>
<path d="M353.2,152.1 L355.7,154.6 L353.2,157.1 L350.7,154.6 Z" fill="#a0aabb" stroke="#3d5882" stroke-width="0.95"/>
<path d="M355.1,147.9 L357.6,150.4 L355.1,152.9 L352.6,150.4 Z" fill="#a0aabb" stroke="#3d5882" stroke-width="0.95"/>
<path d="M356.2,148.3 L358.7,150.8 L356.2,153.3 L353.7,150.8 Z" fill="#a0aabb" stroke="#3d5882" stroke-width="0.95"/>
<path d="M359.8,147.9 L362.3,150.4 L359.8,152.9 L357.3,150.4 Z" fill="#a0aabb" stroke="#3d5882" stroke-width="0.95"/>
<path d="M356.5,154.9 L359,157.4 L356.5,159.9 L354,157.4 Z" fill="#a0aabb" stroke="#3d5882" stroke-width="0.95"/>
<path d="M360.5,154.9 L363,157.4 L360.5,159.9 L358,157.4 Z" fill="#a0aabb" stroke="#3d5882" stroke-width="0.95"/>
<path d="M365.2,155.9 L367.7,158.4 L365.2,160.9 L362.7,158.4 Z" fill="#a0aabb" stroke="#3d5882" stroke-width="0.95"/>
<path d="M364.9,149.5 L367.4,152 L364.9,154.5 L362.4,152 Z" fill="#a0aabb" stroke="#3d5882" stroke-width="0.95"/>
<path d="M372.4,152.4 L374.9,154.9 L372.4,157.4 L369.9,154.9 Z" fill="#a0aabb" stroke="#3d5882" stroke-width="0.95"/>
<path d="M373.8,149.3 L376.3,151.8 L373.8,154.3 L371.3,151.8 Z" fill="#a0aabb" stroke="#3d5882" stroke-width="0.95"/>
<path d="M378.5,153.5 L381,156 L378.5,158.5 L376,156 Z" fill="#a0aabb" stroke="#3d5882" stroke-width="0.95"/>
<path d="M393.1,153.3 L395.6,155.8 L393.1,158.3 L390.6,155.8 Z" fill="#a0aabb" stroke="#3d5882" stroke-width="0.95"/>
<path d="M402.5,154.6 L405,157.1 L402.5,159.6 L400,157.1 Z" fill="#a0aabb" stroke="#3d5882" stroke-width="0.95"/>
<path d="M405.1,154.6 L407.6,157.1 L405.1,159.6 L402.6,157.1 Z" fill="#a0aabb" stroke="#3d5882" stroke-width="0.95"/>
<path d="M357.4,171.6 L360,174.2 L357.4,176.8 L354.8,174.2 Z" fill="#ee7422" stroke="#6a4030" stroke-width="0.8"/>
<path d="M359.3,170.1 L361.9,172.7 L359.3,175.3 L356.7,172.7 Z" fill="#ee7422" stroke="#6a4030" stroke-width="0.8"/>
<path d="M363.5,170.4 L366.1,173 L363.5,175.6 L360.9,173 Z" fill="#ee7422" stroke="#6a4030" stroke-width="0.8"/>
<path d="M364,171.8 L366.6,174.4 L364,177 L361.4,174.4 Z" fill="#ee7422" stroke="#6a4030" stroke-width="0.8"/>
<path d="M363.5,174.2 L366.1,176.8 L363.5,179.4 L360.9,176.8 Z" fill="#ee7422" stroke="#6a4030" stroke-width="0.8"/>
<path d="M359.3,176.7 L361.9,179.3 L359.3,181.9 L356.7,179.3 Z" fill="#ee7422" stroke="#6a4030" stroke-width="0.8"/>
<path d="M369.6,174.2 L372.2,176.8 L369.6,179.4 L367,176.8 Z" fill="#ee7422" stroke="#6a4030" stroke-width="0.8"/>
<path d="M371.1,171.3 L373.7,173.9 L371.1,176.5 L368.5,173.9 Z" fill="#ee7422" stroke="#6a4030" stroke-width="0.8"/>
<path d="M368.2,183.1 L370.8,185.7 L368.2,188.3 L365.6,185.7 Z" fill="#ee7422" stroke="#6a4030" stroke-width="0.8"/>
<path d="M378.5,174.2 L381.1,176.8 L378.5,179.4 L375.9,176.8 Z" fill="#ee7422" stroke="#6a4030" stroke-width="0.8"/>
<path d="M379.4,176.5 L382,179.1 L379.4,181.7 L376.8,179.1 Z" fill="#ee7422" stroke="#6a4030" stroke-width="0.8"/>
<path d="M378.3,182.2 L380.9,184.8 L378.3,187.4 L375.7,184.8 Z" fill="#ee7422" stroke="#6a4030" stroke-width="0.8"/>
<path d="M384.1,179.4 L386.7,182 L384.1,184.6 L381.5,182 Z" fill="#ee7422" stroke="#6a4030" stroke-width="0.8"/>
<path d="M385.5,174.2 L388.1,176.8 L385.5,179.4 L382.9,176.8 Z" fill="#ee7422" stroke="#6a4030" stroke-width="0.8"/>
<path d="M375.6,190.6 L378.2,193.2 L375.6,195.8 L373,193.2 Z" fill="#ee7422" stroke="#6a4030" stroke-width="0.8"/>
<path d="M397.4,186.8 L400,189.4 L397.4,192 L394.8,189.4 Z" fill="#ee7422" stroke="#6a4030" stroke-width="0.8"/>
<path d="M397.4,192.5 L400,195.1 L397.4,197.7 L394.8,195.1 Z" fill="#ee7422" stroke="#6a4030" stroke-width="0.8"/>
<path d="M401.8,184.5 L404.4,187.1 L401.8,189.7 L399.2,187.1 Z" fill="#ee7422" stroke="#6a4030" stroke-width="0.8"/>
<path d="M410.5,183.4 L413.1,186 L410.5,188.6 L407.9,186 Z" fill="#ee7422" stroke="#6a4030" stroke-width="0.8"/>
<path d="M416.6,193.9 L419.2,196.5 L416.6,199.1 L414,196.5 Z" fill="#ee7422" stroke="#6a4030" stroke-width="0.8"/>
<path d="M422.3,141.6 L424.9,144.2 L422.3,146.8 L419.7,144.2 Z" fill="#1b9ad8" stroke="#1d4d6a" stroke-width="0.7"/>
<path d="M423.8,155.8 L426.4,158.4 L423.8,161 L421.2,158.4 Z" fill="#1b9ad8" stroke="#1d4d6a" stroke-width="0.7"/>
<path d="M420.7,168.6 L423.3,171.2 L420.7,173.8 L418.1,171.2 Z" fill="#1b9ad8" stroke="#1d4d6a" stroke-width="0.7"/>
<path d="M422.5,170.3 L425.1,172.9 L422.5,175.5 L419.9,172.9 Z" fill="#1b9ad8" stroke="#1d4d6a" stroke-width="0.7"/>
<path d="M422.3,173.1 L424.9,175.7 L422.3,178.3 L419.7,175.7 Z" fill="#1b9ad8" stroke="#1d4d6a" stroke-width="0.7"/>
<path d="M422.3,175.6 L424.9,178.2 L422.3,180.8 L419.7,178.2 Z" fill="#1b9ad8" stroke="#1d4d6a" stroke-width="0.7"/>
<path d="M437,170.4 L439.6,173 L437,175.6 L434.4,173 Z" fill="#1b9ad8" stroke="#1d4d6a" stroke-width="0.7"/>
<path d="M442.9,178.1 L445.5,180.7 L442.9,183.3 L440.3,180.7 Z" fill="#1b9ad8" stroke="#1d4d6a" stroke-width="0.7"/>
<path d="M441.3,184.7 L443.9,187.3 L441.3,189.9 L438.7,187.3 Z" fill="#1b9ad8" stroke="#1d4d6a" stroke-width="0.7"/>
<path d="M475.1,174.1 L477.7,176.7 L475.1,179.3 L472.5,176.7 Z" fill="#1b9ad8" stroke="#1d4d6a" stroke-width="0.7"/>
<path d="M470.7,184.4 L473.3,187 L470.7,189.6 L468.1,187 Z" fill="#1b9ad8" stroke="#1d4d6a" stroke-width="0.7"/>
<line x1="341.73" y1="124.6" x2="341.73" y2="254.7" stroke="#e8434f" stroke-width="1.05"/>
<line x1="385.73" y1="124.6" x2="385.73" y2="254.7" stroke="#e8434f" stroke-width="1.05"/>
<line x1="400.4" y1="124.6" x2="400.4" y2="254.7" stroke="#e8434f" stroke-width="1.05"/>
<line x1="290.4" y1="242.1" x2="510.4" y2="242.1" stroke="#e8434f" stroke-width="1.05"/>
<rect x="290.4" y="124.6" width="220" height="130.1" fill="none" stroke="#333" stroke-width="1"/>
<line x1="290.4" y1="254.7" x2="292.2" y2="254.7" stroke="#444" stroke-width="0.6"/>
<line x1="290.4" y1="252.1" x2="291.6" y2="252.1" stroke="#444" stroke-width="0.6"/>
<line x1="290.4" y1="249.5" x2="291.6" y2="249.5" stroke="#444" stroke-width="0.6"/>
<line x1="290.4" y1="246.89" x2="291.6" y2="246.89" stroke="#444" stroke-width="0.6"/>
<line x1="290.4" y1="244.29" x2="291.6" y2="244.29" stroke="#444" stroke-width="0.6"/>
<line x1="290.4" y1="241.69" x2="292.2" y2="241.69" stroke="#444" stroke-width="0.6"/>
<line x1="290.4" y1="239.09" x2="291.6" y2="239.09" stroke="#444" stroke-width="0.6"/>
<line x1="290.4" y1="236.49" x2="291.6" y2="236.49" stroke="#444" stroke-width="0.6"/>
<line x1="290.4" y1="233.88" x2="291.6" y2="233.88" stroke="#444" stroke-width="0.6"/>
<line x1="290.4" y1="231.28" x2="291.6" y2="231.28" stroke="#444" stroke-width="0.6"/>
<line x1="290.4" y1="228.68" x2="292.2" y2="228.68" stroke="#444" stroke-width="0.6"/>
<line x1="290.4" y1="226.08" x2="291.6" y2="226.08" stroke="#444" stroke-width="0.6"/>
<line x1="290.4" y1="223.48" x2="291.6" y2="223.48" stroke="#444" stroke-width="0.6"/>
<line x1="290.4" y1="220.87" x2="291.6" y2="220.87" stroke="#444" stroke-width="0.6"/>
<line x1="290.4" y1="218.27" x2="291.6" y2="218.27" stroke="#444" stroke-width="0.6"/>
<line x1="290.4" y1="215.67" x2="292.2" y2="215.67" stroke="#444" stroke-width="0.6"/>
<line x1="290.4" y1="213.07" x2="291.6" y2="213.07" stroke="#444" stroke-width="0.6"/>
<line x1="290.4" y1="210.47" x2="291.6" y2="210.47" stroke="#444" stroke-width="0.6"/>
<line x1="290.4" y1="207.86" x2="291.6" y2="207.86" stroke="#444" stroke-width="0.6"/>
<line x1="290.4" y1="205.26" x2="291.6" y2="205.26" stroke="#444" stroke-width="0.6"/>
<line x1="290.4" y1="202.66" x2="292.2" y2="202.66" stroke="#444" stroke-width="0.6"/>
<line x1="290.4" y1="200.06" x2="291.6" y2="200.06" stroke="#444" stroke-width="0.6"/>
<line x1="290.4" y1="197.46" x2="291.6" y2="197.46" stroke="#444" stroke-width="0.6"/>
<line x1="290.4" y1="194.85" x2="291.6" y2="194.85" stroke="#444" stroke-width="0.6"/>
<line x1="290.4" y1="192.25" x2="291.6" y2="192.25" stroke="#444" stroke-width="0.6"/>
<line x1="290.4" y1="189.65" x2="292.2" y2="189.65" stroke="#444" stroke-width="0.6"/>
<line x1="290.4" y1="187.05" x2="291.6" y2="187.05" stroke="#444" stroke-width="0.6"/>
<line x1="290.4" y1="184.45" x2="291.6" y2="184.45" stroke="#444" stroke-width="0.6"/>
<line x1="290.4" y1="181.84" x2="291.6" y2="181.84" stroke="#444" stroke-width="0.6"/>
<line x1="290.4" y1="179.24" x2="291.6" y2="179.24" stroke="#444" stroke-width="0.6"/>
<line x1="290.4" y1="176.64" x2="292.2" y2="176.64" stroke="#444" stroke-width="0.6"/>
<line x1="290.4" y1="174.04" x2="291.6" y2="174.04" stroke="#444" stroke-width="0.6"/>
<line x1="290.4" y1="171.44" x2="291.6" y2="171.44" stroke="#444" stroke-width="0.6"/>
<line x1="290.4" y1="168.83" x2="291.6" y2="168.83" stroke="#444" stroke-width="0.6"/>
<line x1="290.4" y1="166.23" x2="291.6" y2="166.23" stroke="#444" stroke-width="0.6"/>
<line x1="290.4" y1="163.63" x2="292.2" y2="163.63" stroke="#444" stroke-width="0.6"/>
<line x1="290.4" y1="161.03" x2="291.6" y2="161.03" stroke="#444" stroke-width="0.6"/>
<line x1="290.4" y1="158.43" x2="291.6" y2="158.43" stroke="#444" stroke-width="0.6"/>
<line x1="290.4" y1="155.82" x2="291.6" y2="155.82" stroke="#444" stroke-width="0.6"/>
<line x1="290.4" y1="153.22" x2="291.6" y2="153.22" stroke="#444" stroke-width="0.6"/>
<line x1="290.4" y1="150.62" x2="292.2" y2="150.62" stroke="#444" stroke-width="0.6"/>
<line x1="290.4" y1="148.02" x2="291.6" y2="148.02" stroke="#444" stroke-width="0.6"/>
<line x1="290.4" y1="145.42" x2="291.6" y2="145.42" stroke="#444" stroke-width="0.6"/>
<line x1="290.4" y1="142.81" x2="291.6" y2="142.81" stroke="#444" stroke-width="0.6"/>
<line x1="290.4" y1="140.21" x2="291.6" y2="140.21" stroke="#444" stroke-width="0.6"/>
<line x1="290.4" y1="137.61" x2="292.2" y2="137.61" stroke="#444" stroke-width="0.6"/>
<line x1="290.4" y1="135.01" x2="291.6" y2="135.01" stroke="#444" stroke-width="0.6"/>
<line x1="290.4" y1="132.41" x2="291.6" y2="132.41" stroke="#444" stroke-width="0.6"/>
<line x1="290.4" y1="129.8" x2="291.6" y2="129.8" stroke="#444" stroke-width="0.6"/>
<line x1="290.4" y1="127.2" x2="291.6" y2="127.2" stroke="#444" stroke-width="0.6"/>
<line x1="290.4" y1="124.6" x2="292.2" y2="124.6" stroke="#444" stroke-width="0.6"/>
<line x1="290.4" y1="254.7" x2="290.4" y2="252.9" stroke="#444" stroke-width="0.6"/>
<line x1="297.73" y1="254.7" x2="297.73" y2="253.5" stroke="#444" stroke-width="0.6"/>
<line x1="305.07" y1="254.7" x2="305.07" y2="253.5" stroke="#444" stroke-width="0.6"/>
<line x1="312.4" y1="254.7" x2="312.4" y2="253.5" stroke="#444" stroke-width="0.6"/>
<line x1="319.73" y1="254.7" x2="319.73" y2="253.5" stroke="#444" stroke-width="0.6"/>
<line x1="327.07" y1="254.7" x2="327.07" y2="252.9" stroke="#444" stroke-width="0.6"/>
<line x1="334.4" y1="254.7" x2="334.4" y2="253.5" stroke="#444" stroke-width="0.6"/>
<line x1="341.73" y1="254.7" x2="341.73" y2="253.5" stroke="#444" stroke-width="0.6"/>
<line x1="349.07" y1="254.7" x2="349.07" y2="253.5" stroke="#444" stroke-width="0.6"/>
<line x1="356.4" y1="254.7" x2="356.4" y2="253.5" stroke="#444" stroke-width="0.6"/>
<line x1="363.73" y1="254.7" x2="363.73" y2="252.9" stroke="#444" stroke-width="0.6"/>
<line x1="371.07" y1="254.7" x2="371.07" y2="253.5" stroke="#444" stroke-width="0.6"/>
<line x1="378.4" y1="254.7" x2="378.4" y2="253.5" stroke="#444" stroke-width="0.6"/>
<line x1="385.73" y1="254.7" x2="385.73" y2="253.5" stroke="#444" stroke-width="0.6"/>
<line x1="393.07" y1="254.7" x2="393.07" y2="253.5" stroke="#444" stroke-width="0.6"/>
<line x1="400.4" y1="254.7" x2="400.4" y2="252.9" stroke="#444" stroke-width="0.6"/>
<line x1="407.73" y1="254.7" x2="407.73" y2="253.5" stroke="#444" stroke-width="0.6"/>
<line x1="415.07" y1="254.7" x2="415.07" y2="253.5" stroke="#444" stroke-width="0.6"/>
<line x1="422.4" y1="254.7" x2="422.4" y2="253.5" stroke="#444" stroke-width="0.6"/>
<line x1="429.73" y1="254.7" x2="429.73" y2="253.5" stroke="#444" stroke-width="0.6"/>
<line x1="437.07" y1="254.7" x2="437.07" y2="252.9" stroke="#444" stroke-width="0.6"/>
<line x1="444.4" y1="254.7" x2="444.4" y2="253.5" stroke="#444" stroke-width="0.6"/>
<line x1="451.73" y1="254.7" x2="451.73" y2="253.5" stroke="#444" stroke-width="0.6"/>
<line x1="459.07" y1="254.7" x2="459.07" y2="253.5" stroke="#444" stroke-width="0.6"/>
<line x1="466.4" y1="254.7" x2="466.4" y2="253.5" stroke="#444" stroke-width="0.6"/>
<line x1="473.73" y1="254.7" x2="473.73" y2="252.9" stroke="#444" stroke-width="0.6"/>
<line x1="481.07" y1="254.7" x2="481.07" y2="253.5" stroke="#444" stroke-width="0.6"/>
<line x1="488.4" y1="254.7" x2="488.4" y2="253.5" stroke="#444" stroke-width="0.6"/>
<line x1="495.73" y1="254.7" x2="495.73" y2="253.5" stroke="#444" stroke-width="0.6"/>
<line x1="503.07" y1="254.7" x2="503.07" y2="253.5" stroke="#444" stroke-width="0.6"/>
<line x1="510.4" y1="254.7" x2="510.4" y2="252.9" stroke="#444" stroke-width="0.6"/>
<text x="286.4" y="256.4" font-size="5" text-anchor="end" font-weight="bold" fill="#333" stroke="#333" stroke-width="0.05">0</text>
<text x="286.4" y="243.39" font-size="5" text-anchor="end" font-weight="bold" fill="#333" stroke="#333" stroke-width="0.05">0.1</text>
<text x="286.4" y="230.38" font-size="5" text-anchor="end" font-weight="bold" fill="#333" stroke="#333" stroke-width="0.05">0.2</text>
<text x="286.4" y="217.37" font-size="5" text-anchor="end" font-weight="bold" fill="#333" stroke="#333" stroke-width="0.05">0.3</text>
<text x="286.4" y="204.36" font-size="5" text-anchor="end" font-weight="bold" fill="#333" stroke="#333" stroke-width="0.05">0.4</text>
<text x="286.4" y="191.35" font-size="5" text-anchor="end" font-weight="bold" fill="#333" stroke="#333" stroke-width="0.05">0.5</text>
<text x="286.4" y="178.34" font-size="5" text-anchor="end" font-weight="bold" fill="#333" stroke="#333" stroke-width="0.05">0.6</text>
<text x="286.4" y="165.33" font-size="5" text-anchor="end" font-weight="bold" fill="#333" stroke="#333" stroke-width="0.05">0.7</text>
<text x="286.4" y="152.32" font-size="5" text-anchor="end" font-weight="bold" fill="#333" stroke="#333" stroke-width="0.05">0.8</text>
<text x="286.4" y="139.31" font-size="5" text-anchor="end" font-weight="bold" fill="#333" stroke="#333" stroke-width="0.05">0.9</text>
<text x="286.4" y="126.3" font-size="5" text-anchor="end" font-weight="bold" fill="#333" stroke="#333" stroke-width="0.05">1</text>
<text x="290.8" y="261.8" font-size="5" text-anchor="middle" font-weight="normal" fill="#333" stroke="#333" stroke-width="0.3" letter-spacing="0.8">400</text>
<text x="327.47" y="261.8" font-size="5" text-anchor="middle" font-weight="normal" fill="#333" stroke="#333" stroke-width="0.3" letter-spacing="0.8">425</text>
<text x="364.13" y="261.8" font-size="5" text-anchor="middle" font-weight="normal" fill="#333" stroke="#333" stroke-width="0.3" letter-spacing="0.8">450</text>
<text x="400.8" y="261.8" font-size="5" text-anchor="middle" font-weight="normal" fill="#333" stroke="#333" stroke-width="0.3" letter-spacing="0.8">475</text>
<text x="437.47" y="261.8" font-size="5" text-anchor="middle" font-weight="normal" fill="#333" stroke="#333" stroke-width="0.3" letter-spacing="0.8">500</text>
<text x="474.13" y="261.8" font-size="5" text-anchor="middle" font-weight="normal" fill="#333" stroke="#333" stroke-width="0.3" letter-spacing="0.8">525</text>
<text x="510.8" y="261.8" font-size="5" text-anchor="middle" font-weight="normal" fill="#333" stroke="#333" stroke-width="0.3" letter-spacing="0.8">550</text>
<text x="405.7" y="275.1" font-size="8.1" text-anchor="middle" font-weight="bold" fill="#222" stroke="#222" stroke-width="0.25">Tmax (°C)</text>
<text transform="translate(276.2,188.8) rotate(-90)" font-size="7.6" text-anchor="middle" font-weight="bold" fill="#222" stroke="#222" stroke-width="0.25">PI (S1/S1 +S2)</text>
<text transform="translate(312,189.8) rotate(-90)" font-size="7.8" text-anchor="middle" font-weight="bold" fill="#2b3990" stroke="#2b3990" stroke-width="0.12">Contaminated</text>
<text transform="translate(350.8,193.6) rotate(-90)" font-size="7.8" text-anchor="middle" font-weight="bold" fill="#2b3990" stroke="#2b3990" stroke-width="0.12">Oil window</text>
<text transform="translate(394.4,189.6) rotate(-90)" font-size="7.8" text-anchor="middle" font-weight="bold" fill="#2b3990" stroke="#2b3990" stroke-width="0.12">Wet gas Zone</text>
<text transform="translate(459.6,183.1) rotate(-90)" font-size="7.8" text-anchor="middle" font-weight="bold" fill="#2b3990" stroke="#2b3990" stroke-width="0.12">Dry gas zone</text>
</svg>
</body></html>
